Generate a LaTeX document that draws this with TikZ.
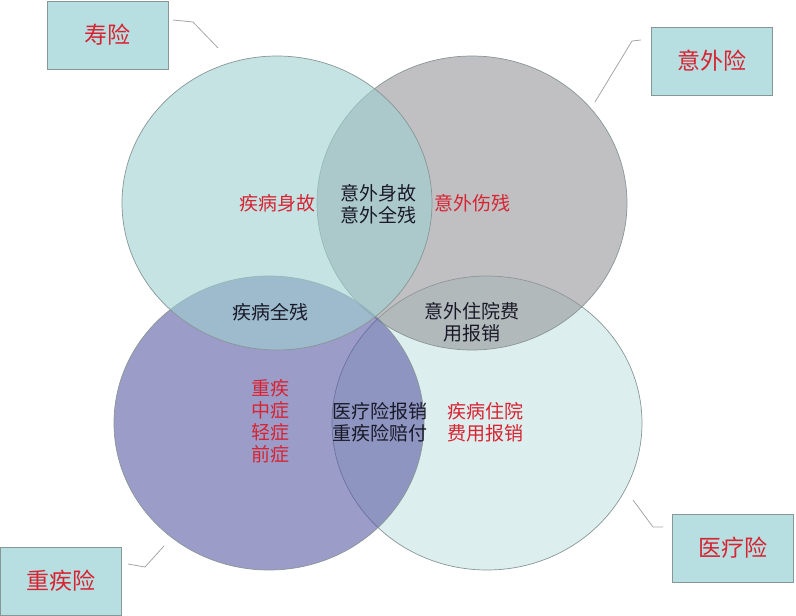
\documentclass[tikz,border=0pt]{standalone}
\usepackage{fontspec}
\setmainfont{Noto Sans CJK SC}
\definecolor{boxblue}{RGB}{183,222,224}
\definecolor{rimgray}{RGB}{135,150,150}
\definecolor{txtred}{RGB}{215,35,50}
\definecolor{txtdark}{RGB}{25,25,40}
\definecolor{cshou}{RGB}{158,208,208}
\definecolor{cyiwai}{RGB}{150,150,153}
\definecolor{czhongji}{RGB}{90,90,163}
\definecolor{cyiliao}{RGB}{198,227,227}
\begin{document}
\begin{tikzpicture}[x=1pt,y=-1pt,
  labelbox/.style={draw=rimgray,fill=boxblue,minimum width=121pt,minimum height=68pt,inner sep=0pt,text=txtred,font=\fontsize{23}{23}\selectfont},
  setdisk/.style={draw=rimgray,line width=0.7pt,fill opacity=0.6},
  redtxt/.style={text=txtred,font=\fontsize{19}{22}\selectfont,align=center,inner sep=0pt},
  darktxt/.style={text=txtdark,font=\fontsize{19}{22}\selectfont,align=center,inner sep=0pt},
  leader/.style={draw=gray!70,line width=0.8pt}]
\useasboundingbox (0,0) rectangle (796,616);
% the four sets
\draw[setdisk,fill=cyiliao] (487,423) ellipse (155 and 147);
\draw[setdisk,fill=cyiwai] (472,203) ellipse (155 and 147);
\draw[setdisk,fill=czhongji] (269,423) ellipse (155 and 147);
\draw[setdisk,fill=cshou] (277,203) ellipse (155 and 147);
% labels of the sets
\node[labelbox] (shou) at (107.5,35) {寿险};
\node[labelbox] (yiwai) at (712,61) {意外险};
\node[labelbox] (zhongji) at (61,581) {重疾险};
\node[labelbox] (yiliao) at (733,548) {医疗险};
% leader lines
\coordinate (s1) at (173,20); \coordinate (s2) at (193,22); \coordinate (s3) at (218,48);
\coordinate (y1) at (641,40); \coordinate (y2) at (632,41); \coordinate (y3) at (595,102);
\coordinate (z1) at (128,564); \coordinate (z2) at (145,567); \coordinate (z3) at (164,546);
\coordinate (l1) at (663,527); \coordinate (l2) at (653,527); \coordinate (l3) at (633,500);
\draw[leader] (s1) -- (s2) -- (s3);
\draw[leader] (y1) -- (y2) -- (y3);
\draw[leader] (z1) -- (z2) -- (z3);
\draw[leader] (l1) -- (l2) -- (l3);
% texts inside
\node[redtxt] (jbsg) at (277,203) {疾病身故};
\node[darktxt] (ywsg) at (378,204) {意外身故\\意外全残};
\node[redtxt] (ywsc) at (472,203) {意外伤残};
\node[darktxt] (jbqc) at (270,312) {疾病全残};
\node[darktxt] (ywzy) at (472,322) {意外住院费\\用报销};
\node[redtxt] (zjzz) at (270,421) {重疾\\中症\\轻症\\前症};
\node[darktxt] (ylbx) at (380,422) {医疗险报销\\重疾险赔付};
\node[redtxt] (jbzy) at (485,422) {疾病住院\\费用报销};
\end{tikzpicture}
\end{document}
